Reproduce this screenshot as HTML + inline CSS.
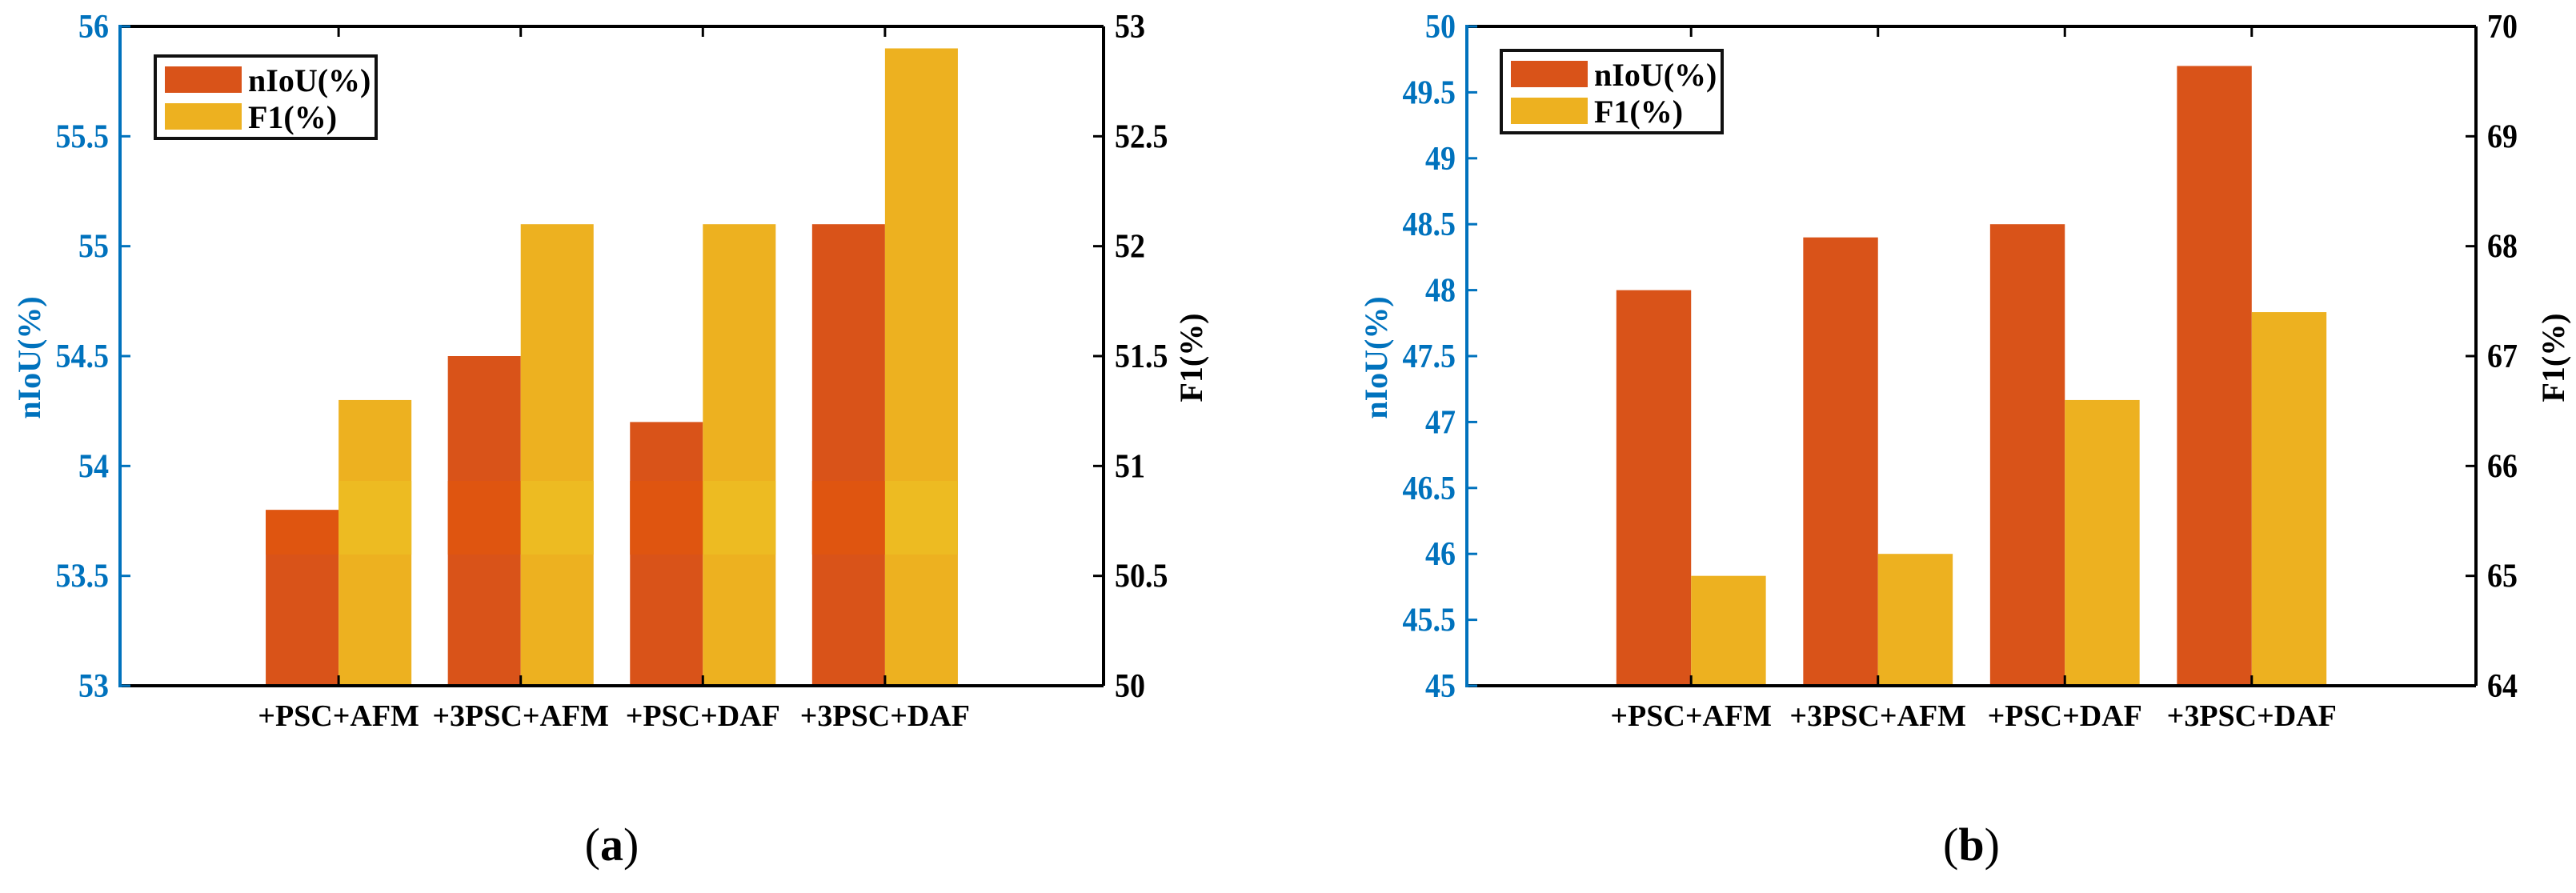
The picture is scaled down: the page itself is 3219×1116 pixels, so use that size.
<!DOCTYPE html>
<html><head><meta charset="utf-8"><style>
html,body{margin:0;padding:0;background:#fff;}
svg{display:block;}
text{font-family:"Liberation Serif",serif;}
</style></head>
<body>
<svg id="fig" width="3219" height="1116" viewBox="0 0 3219 1116" xmlns="http://www.w3.org/2000/svg"></svg>
<script>
const categories = ["+PSC+AFM","+3PSC+AFM","+PSC+DAF","+3PSC+DAF"];
const niouA = [53.8, 54.5, 54.2, 55.1];
const f1A = [51.3, 52.1, 52.1, 52.9];
const niouB = [48.0, 48.4, 48.5, 49.7];
const f1B = [65.0, 65.2, 66.6, 67.4];
const leftTicksA = ["53","53.5","54","54.5","55","55.5","56"];
const rightTicksA = ["50","50.5","51","51.5","52","52.5","53"];
const leftTicksB = ["45","45.5","46","46.5","47","47.5","48","48.5","49","49.5","50"];
const rightTicksB = ["64","65","66","67","68","69","70"];

const NS = "http://www.w3.org/2000/svg";
const svg = document.getElementById('fig');
function mk(tag, attrs, parent, txt){
  const e = document.createElementNS(NS, tag);
  for (const k in attrs) e.setAttribute(k, attrs[k]);
  if (txt !== undefined) e.textContent = txt;
  (parent||svg).appendChild(e);
  return e;
}
const ORANGE="#D95319", YELLOW="#EDB120", BLUE="#0072BD";

function chart(cfg){
  const g = mk('g', {});
  
  
  const L=cfg.L, R=cfg.R, T=33, B=857;
  const n = categories.length;
  const unit = (R-L)/(n-1+2.4);
  const xS = i => L + unit*(1.2+i);
  const yL = v => B - (v-cfg.lmin)/(cfg.lmax-cfg.lmin)*(B-T);
  const yR = v => B - (v-cfg.rmin)/(cfg.rmax-cfg.rmin)*(B-T);
  const bw = unit*0.4;
  for (let i=0;i<n;i++){
    const cx = xS(i);
    const r1 = mk('rect',{x:cx-bw,y:yL(cfg.left[i]),width:bw,height:B-yL(cfg.left[i]),fill:ORANGE},g);
    
    
    const r2 = mk('rect',{x:cx,y:yR(cfg.right[i]),width:bw,height:B-yR(cfg.right[i]),fill:YELLOW},g);
    
    
    if (cfg.band){
      const t1 = Math.max(yL(cfg.left[i]),601);
      if (t1<693) mk('rect',{x:cx-bw,y:t1,width:bw,height:693-t1,fill:"#DF5510"},g);
      const t2 = Math.max(yR(cfg.right[i]),601);
      if (t2<693) mk('rect',{x:cx,y:t2,width:bw,height:693-t2,fill:"#EDBB22"},g);
    }
  }
  mk('line',{x1:L,y1:T,x2:R,y2:T,stroke:"#000","stroke-width":4},g);
  mk('line',{x1:L,y1:B,x2:R,y2:B,stroke:"#000","stroke-width":4},g);
  mk('line',{x1:R,y1:T,x2:R,y2:B,stroke:"#000","stroke-width":4},g);
  mk('line',{x1:L,y1:T-2,x2:L,y2:B+2,stroke:BLUE,"stroke-width":4},g);
  for (let i=0;i<n;i++){
    const cx=xS(i);
    mk('line',{x1:cx,y1:B,x2:cx,y2:B-13,stroke:"#000","stroke-width":3},g);
    mk('line',{x1:cx,y1:T,x2:cx,y2:T+13,stroke:"#000","stroke-width":3},g);
    const t = mk('text',{x:cx,y:907,"text-anchor":"middle","font-size":38,"font-weight":"bold",fill:"#000"},g,categories[i]);
    
    
  }
  cfg.lt.forEach(s=>{
    const y=yL(parseFloat(s));
    mk('line',{x1:L,y1:y,x2:L+13,y2:y,stroke:BLUE,"stroke-width":3},g);
    const t=mk('text',{x:0,y:0,transform:`translate(${L-14},${y+14}) scale(1,1.1)`,"text-anchor":"end","font-size":38,"font-weight":"bold",fill:BLUE},g,s);
    
    
  });
  cfg.rt.forEach(s=>{
    const y=yR(parseFloat(s));
    mk('line',{x1:R,y1:y,x2:R-13,y2:y,stroke:"#000","stroke-width":3},g);
    const t=mk('text',{x:0,y:0,transform:`translate(${R+14},${y+14}) scale(1,1.1)`,"text-anchor":"start","font-size":38,"font-weight":"bold",fill:"#000"},g,s);
    
    
  });
  const lt = mk('text',{x:0,y:0,transform:`translate(${L-100},447) rotate(-90)`,"text-anchor":"middle","font-size":40,"font-weight":"bold",fill:BLUE},g,"nIoU(%)");
  
  
  const rtt = mk('text',{x:0,y:0,transform:`translate(${R+cfg.rto},447) rotate(-90)`,"text-anchor":"middle","font-size":40,"font-weight":"bold",fill:"#000"},g,"F1(%)");
  
  
  const lg = mk('g',{},g);
  
  
  const lx=cfg.lx, ly=cfg.ly;
  mk('rect',{x:lx,y:ly,width:276,height:103,fill:"#fff",stroke:"#111","stroke-width":4},lg);
  mk('rect',{x:lx+12,y:ly+13,width:96,height:33,fill:ORANGE},lg);
  mk('rect',{x:lx+12,y:ly+59,width:96,height:33,fill:YELLOW},lg);
  const e1=mk('text',{x:lx+116,y:ly+44,"font-size":40,"font-weight":"bold",fill:"#000"},lg,"nIoU(%)");
  
  
  const e2=mk('text',{x:lx+116,y:ly+90,"font-size":40,"font-weight":"bold",fill:"#000"},lg,"F1(%)");
  
  
  const cap = mk('text',{x:(L+R)/2,y:1075,"text-anchor":"middle","font-size":58,fill:"#000"},g);
  
  
  mk('tspan',{},cap,"(");
  mk('tspan',{"font-weight":"bold"},cap,cfg.cap);
  mk('tspan',{},cap,")");
}
chart({name:'chart-a',L:150,R:1379,lmin:53,lmax:56,rmin:50,rmax:53,left:niouA,right:f1A,lt:leftTicksA,rt:rightTicksA,lx:194,ly:70,cap:'a',band:true,rto:123});
chart({name:'chart-b',L:1833,R:3094,lmin:45,lmax:50,rmin:64,rmax:70,left:niouB,right:f1B,lt:leftTicksB,rt:rightTicksB,lx:1876,ly:63,cap:'b',band:false,rto:110});
</script>
</body></html>
